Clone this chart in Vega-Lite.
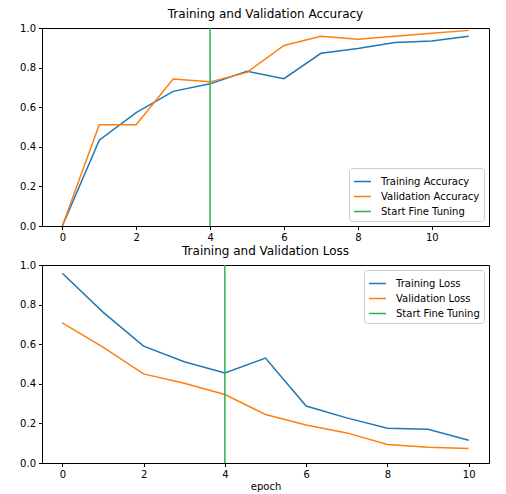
{
  "$schema": "https://vega.github.io/schema/vega-lite/v6.json",
  "description": "Training and validation accuracy and loss, with fine tuning start",
  "padding": {"left": 19, "top": 7, "right": 10, "bottom": 2},
  "spacing": 1,
  "config": {
    "font": "DejaVu Sans",
    "view": {"stroke": "black", "strokeWidth": 1},
    "axis": {
      "grid": false,
      "domainColor": "black",
      "tickColor": "black",
      "labelColor": "black",
      "labelFontSize": 10,
      "tickSize": 3.5,
      "labelPadding": 3,
      "titleFontWeight": "normal",
      "titleFontSize": 10,
      "titleColor": "black",
      "titlePadding": 2
    },
    "title": {"fontSize": 12, "fontWeight": "normal", "color": "black", "offset": 2},
    "legend": {
      "offset": 5,
      "fillColor": "rgba(255,255,255,0.8)",
      "strokeColor": "#cccccc",
      "cornerRadius": 3,
      "padding": 4,
      "symbolType": "stroke",
      "symbolSize": 289,
      "symbolStrokeWidth": 1.5,
      "labelFontSize": 10,
      "labelColor": "black",
      "labelOffset": 9,
      "rowPadding": -2
    }
  },
  "datasets": {
    "accuracy": [
      {"epoch": 0, "value": 0.0, "series": "Training Accuracy"},
      {"epoch": 1, "value": 0.433, "series": "Training Accuracy"},
      {"epoch": 2, "value": 0.573, "series": "Training Accuracy"},
      {"epoch": 3, "value": 0.68, "series": "Training Accuracy"},
      {"epoch": 4, "value": 0.718, "series": "Training Accuracy"},
      {"epoch": 5, "value": 0.781, "series": "Training Accuracy"},
      {"epoch": 6, "value": 0.744, "series": "Training Accuracy"},
      {"epoch": 7, "value": 0.872, "series": "Training Accuracy"},
      {"epoch": 8, "value": 0.897, "series": "Training Accuracy"},
      {"epoch": 9, "value": 0.927, "series": "Training Accuracy"},
      {"epoch": 10, "value": 0.934, "series": "Training Accuracy"},
      {"epoch": 11, "value": 0.958, "series": "Training Accuracy"},
      {"epoch": 0, "value": 0.0, "series": "Validation Accuracy"},
      {"epoch": 1, "value": 0.511, "series": "Validation Accuracy"},
      {"epoch": 2, "value": 0.511, "series": "Validation Accuracy"},
      {"epoch": 3, "value": 0.742, "series": "Validation Accuracy"},
      {"epoch": 4, "value": 0.728, "series": "Validation Accuracy"},
      {"epoch": 5, "value": 0.776, "series": "Validation Accuracy"},
      {"epoch": 6, "value": 0.912, "series": "Validation Accuracy"},
      {"epoch": 7, "value": 0.958, "series": "Validation Accuracy"},
      {"epoch": 8, "value": 0.943, "series": "Validation Accuracy"},
      {"epoch": 9, "value": 0.958, "series": "Validation Accuracy"},
      {"epoch": 10, "value": 0.973, "series": "Validation Accuracy"},
      {"epoch": 11, "value": 0.988, "series": "Validation Accuracy"}
    ],
    "loss": [
      {"epoch": 0, "value": 0.958, "series": "Training Loss"},
      {"epoch": 1, "value": 0.762, "series": "Training Loss"},
      {"epoch": 2, "value": 0.59, "series": "Training Loss"},
      {"epoch": 3, "value": 0.511, "series": "Training Loss"},
      {"epoch": 4, "value": 0.455, "series": "Training Loss"},
      {"epoch": 5, "value": 0.53, "series": "Training Loss"},
      {"epoch": 6, "value": 0.288, "series": "Training Loss"},
      {"epoch": 7, "value": 0.228, "series": "Training Loss"},
      {"epoch": 8, "value": 0.175, "series": "Training Loss"},
      {"epoch": 9, "value": 0.17, "series": "Training Loss"},
      {"epoch": 10, "value": 0.115, "series": "Training Loss"},
      {"epoch": 0, "value": 0.708, "series": "Validation Loss"},
      {"epoch": 1, "value": 0.585, "series": "Validation Loss"},
      {"epoch": 2, "value": 0.45, "series": "Validation Loss"},
      {"epoch": 3, "value": 0.403, "series": "Validation Loss"},
      {"epoch": 4, "value": 0.346, "series": "Validation Loss"},
      {"epoch": 5, "value": 0.245, "series": "Validation Loss"},
      {"epoch": 6, "value": 0.192, "series": "Validation Loss"},
      {"epoch": 7, "value": 0.152, "series": "Validation Loss"},
      {"epoch": 8, "value": 0.093, "series": "Validation Loss"},
      {"epoch": 9, "value": 0.079, "series": "Validation Loss"},
      {"epoch": 10, "value": 0.073, "series": "Validation Loss"}
    ],
    "finetune": [
      {"epoch": 4, "series": "Start Fine Tuning"}
    ]
  },
  "vconcat": [
    {
      "title": "Training and Validation Accuracy",
      "width": 447,
      "height": 198,
      "encoding": {
        "x": {
          "field": "epoch",
          "type": "quantitative",
          "scale": {"domain": [-0.55, 11.55], "nice": false, "zero": false},
          "axis": {"values": [0, 2, 4, 6, 8, 10], "title": null}
        },
        "color": {
          "field": "series",
          "type": "nominal",
          "scale": {
            "domain": ["Training Accuracy", "Validation Accuracy", "Start Fine Tuning"],
            "range": ["#1f77b4", "#ff7f0e", "#2ab34a"]
          },
          "legend": {"title": null, "orient": "bottom-right"}
        }
      },
      "layer": [
        {
          "data": {"name": "accuracy"},
          "mark": {"type": "line", "strokeWidth": 1.5, "clip": true},
          "encoding": {
            "y": {
              "field": "value",
              "type": "quantitative",
              "scale": {"domain": [0, 1], "nice": false},
              "axis": {"values": [0, 0.2, 0.4, 0.6, 0.8, 1.0], "format": ".1f", "title": null}
            }
          }
        },
        {
          "data": {"name": "finetune"},
          "mark": {"type": "rule", "strokeWidth": 1.5},
          "encoding": {}
        }
      ]
    },
    {
      "title": "Training and Validation Loss",
      "width": 447,
      "height": 198,
      "encoding": {
        "x": {
          "field": "epoch",
          "type": "quantitative",
          "scale": {"domain": [-0.5, 10.5], "nice": false, "zero": false},
          "axis": {"values": [0, 2, 4, 6, 8, 10], "title": "epoch"}
        },
        "color": {
          "field": "series",
          "type": "nominal",
          "scale": {
            "domain": ["Training Loss", "Validation Loss", "Start Fine Tuning"],
            "range": ["#1f77b4", "#ff7f0e", "#2ab34a"]
          },
          "legend": {"title": null, "orient": "top-right"}
        }
      },
      "layer": [
        {
          "data": {"name": "loss"},
          "mark": {"type": "line", "strokeWidth": 1.5, "clip": true},
          "encoding": {
            "y": {
              "field": "value",
              "type": "quantitative",
              "scale": {"domain": [0, 1], "nice": false},
              "axis": {"values": [0, 0.2, 0.4, 0.6, 0.8, 1.0], "format": ".1f", "title": null}
            }
          }
        },
        {
          "data": {"name": "finetune"},
          "mark": {"type": "rule", "strokeWidth": 1.5},
          "encoding": {}
        }
      ]
    }
  ],
  "resolve": {"scale": {"color": "independent", "x": "independent"}}
}
